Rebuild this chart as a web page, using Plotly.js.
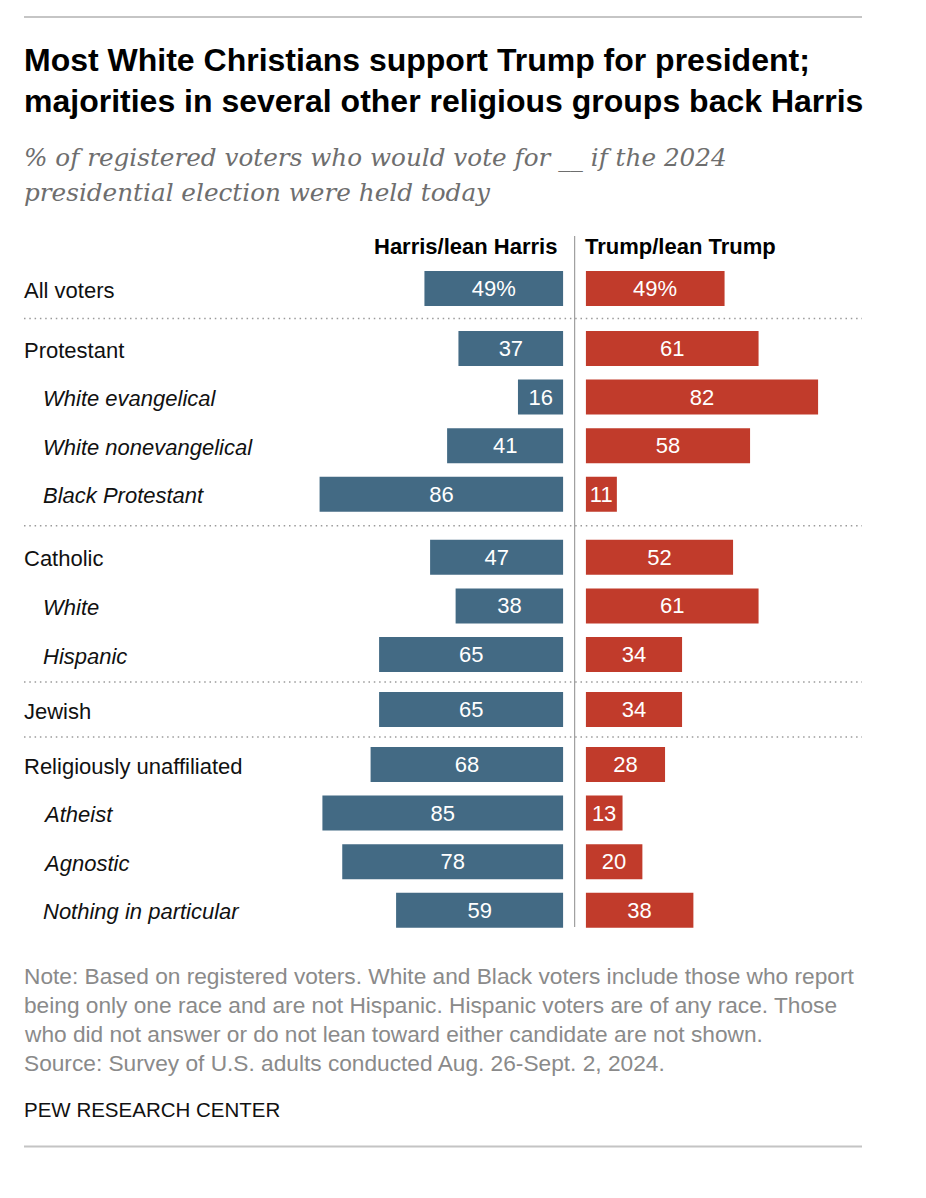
<!DOCTYPE html>
<html>
<head>
<meta charset="utf-8">
<script src="https://cdn.plot.ly/plotly-3.0.1.min.js"></script>
<style>
  html, body { margin: 0; padding: 0; background: #fff; }
  #chart { width: 926px; height: 1198px; }
</style>
</head>
<body>
<div id="chart"></div>
<script>
// Religious groups, top to bottom
const groups = [
  'All voters',
  'Protestant', 'White evangelical', 'White nonevangelical', 'Black Protestant',
  'Catholic', 'White', 'Hispanic',
  'Jewish',
  'Religiously unaffiliated', 'Atheist', 'Agnostic', 'Nothing in particular'
];
// Which block each row belongs to (blocks are split by dotted rules)
const blockOf = [0, 1, 1, 1, 1, 2, 2, 2, 3, 4, 4, 4, 4];
// Subgroups are indented and set in italics
const isSubgroup = [false, false, true, true, true, false, true, true, false, false, true, true, true];

// % of registered voters
const harris = [49, 37, 16, 41, 86, 47, 38, 65, 65, 68, 85, 78, 59];
const trump  = [49, 61, 82, 58, 11, 52, 61, 34, 34, 28, 13, 20, 38];

const harrisHeader = 'Harris/lean Harris';
const trumpHeader = 'Trump/lean Trump';

const subtitleLines = [
  '% of registered voters who would vote for __ if the 2024',
  'presidential election were held today'
];
const noteLines = [
  'Note: Based on registered voters. White and Black voters include those who report',
  'being only one race and are not Hispanic. Hispanic voters are of any race. Those',
  'who did not answer or do not lean toward either candidate are not shown.',
  'Source: Survey of U.S. adults conducted Aug. 26-Sept. 2, 2024.'
];

// ---- layout constants (pixels) ----
const W = 926, H = 1198;
const FIRST_ROW = 288.5;        // centre of first bar
const ROW_STEP = 48.6;          // distance between rows inside a block
const BLOCK_GAPS = [11.4, 14.4, 6.4, 6.4]; // extra space before blocks 1..4
const BAR_H = 35;
const HARRIS_ZERO = 563.3, TRUMP_ZERO = 585.7, PX_PER_PT = 2.834;
const LEFT = 24, RIGHT = 862;
const TEXT_LEFT = 22;           // annotation boxes carry a little padding
const SANS = 'Liberation Sans, Arial, sans-serif';
const px = v => v / W;

// y centre of each row, from its index and block
const rowY = groups.map((g, i) => {
  let y = FIRST_ROW + i * ROW_STEP;
  for (let b = 1; b <= blockOf[i]; b++) y += BLOCK_GAPS[b - 1];
  return y;
});

const fmt = (v, i) => i === 0 ? v + '%' : String(v);

const barTrace = (vals, color, xa) => ({
  type: 'bar',
  orientation: 'h',
  x: vals,
  y: rowY,
  width: BAR_H,
  xaxis: xa,
  yaxis: 'y',
  marker: { color: color, line: { width: 0 } },
  text: vals.map(fmt),
  textposition: 'inside',
  insidetextanchor: 'middle',
  constraintext: 'none',
  textfont: { family: SANS, size: 22, color: '#ffffff' },
  hoverinfo: 'skip',
  cliponaxis: false
});

const data = [
  barTrace(harris, '#436a84', 'x'),
  barTrace(trump, '#c13b2b', 'x2')
];

const annotations = [];

// row labels
groups.forEach((g, i) => {
  annotations.push({
    text: g,
    xref: 'paper', yref: 'y',
    x: px(isSubgroup[i] ? 41 : TEXT_LEFT), y: rowY[i] + 1.5,
    xanchor: 'left', yanchor: 'middle',
    showarrow: false,
    font: { family: SANS, size: 22, color: '#111', style: isSubgroup[i] ? 'italic' : 'normal' }
  });
});

// column headers
annotations.push({
  text: '<b>' + harrisHeader + '</b>', xref: 'paper', yref: 'y',
  x: px(559), y: 246, xanchor: 'right', yanchor: 'middle', showarrow: false,
  font: { family: SANS, size: 22, color: '#000' }
});
annotations.push({
  text: '<b>' + trumpHeader + '</b>', xref: 'paper', yref: 'y',
  x: px(583), y: 246, xanchor: 'left', yanchor: 'middle', showarrow: false,
  font: { family: SANS, size: 22, color: '#000' }
});

// subtitle, one line per annotation
subtitleLines.forEach((line, k) => {
  annotations.push({
    text: line,
    xref: 'paper', yref: 'y', x: px(TEXT_LEFT), y: 157 + k * 35,
    xanchor: 'left', yanchor: 'middle', showarrow: false,
    font: { family: 'DejaVu Serif, Georgia, serif', size: 24.7, color: '#6e6e6e', style: 'italic' }
  });
});

// note and source
noteLines.forEach((line, k) => {
  annotations.push({
    text: line,
    xref: 'paper', yref: 'y', x: px(TEXT_LEFT), y: 975.5 + k * 29,
    xanchor: 'left', yanchor: 'middle', showarrow: false,
    font: { family: SANS, size: 22.7, color: '#8a8a8a' }
  });
});
annotations.push({
  text: 'PEW RESEARCH CENTER',
  xref: 'paper', yref: 'y', x: px(TEXT_LEFT), y: 1109, xanchor: 'left', yanchor: 'middle',
  showarrow: false,
  font: { family: SANS, size: 20.5, color: '#111' }
});

// rules and dividers
const shapes = [
  { type: 'line', xref: 'paper', yref: 'y', x0: px(LEFT), x1: px(RIGHT), y0: 17, y1: 17,
    line: { color: '#8c8c8c', width: 1.2 } },
  { type: 'line', xref: 'paper', yref: 'y', x0: px(LEFT), x1: px(RIGHT), y0: 1146.5, y1: 1146.5,
    line: { color: '#c4c4c4', width: 2 } },
  { type: 'line', xref: 'paper', yref: 'y', x0: px(574.7), x1: px(574.7), y0: 236, y1: 927,
    line: { color: '#8c8c8c', width: 1 } }
];
for (let i = 1; i < groups.length; i++) {
  if (blockOf[i] !== blockOf[i - 1]) {
    const y = (rowY[i] + rowY[i - 1]) / 2;
    shapes.push({ type: 'line', xref: 'paper', yref: 'y', x0: px(LEFT), x1: px(RIGHT), y0: y, y1: y,
      line: { color: '#9a9a9a', width: 1.5, dash: '1.5px,3.8px' } });
  }
}

const layout = {
  width: W, height: H,
  margin: { l: 0, r: 0, t: 0, b: 0 },
  paper_bgcolor: '#fff', plot_bgcolor: 'rgba(0,0,0,0)',
  showlegend: false,
  title: {
    text: '<b>Most White Christians support Trump for president;<br>majorities in several other religious groups back Harris</b>',
    x: px(LEFT), xanchor: 'left', xref: 'paper',
    y: 1 - 70.5 / H, yanchor: 'top', yref: 'container',
    font: { family: SANS, size: 32, color: '#000' }
  },
  xaxis: { domain: [px(HARRIS_ZERO - 100 * PX_PER_PT), px(HARRIS_ZERO)], range: [100, 0],
    visible: false, fixedrange: true },
  xaxis2: { domain: [px(TRUMP_ZERO), px(TRUMP_ZERO + 100 * PX_PER_PT)], range: [0, 100],
    anchor: 'y', visible: false, fixedrange: true },
  yaxis: { domain: [0, 1], range: [H, 0], visible: false, fixedrange: true },
  annotations: annotations,
  shapes: shapes
};

Plotly.newPlot('chart', data, layout, { displayModeBar: false, staticPlot: true });
</script>
</body>
</html>
